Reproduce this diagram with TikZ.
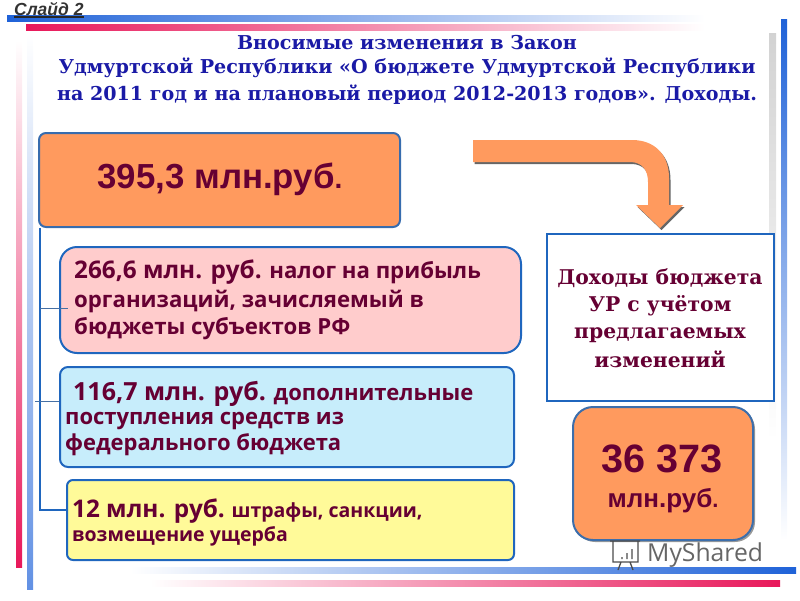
\documentclass[tikz,border=0pt]{standalone}
\usepackage{fontspec}
\setmainfont{Liberation Sans}
\newfontfamily\titlefont{DejaVu Serif}
\newfontfamily\bodyfont{Open Sans}
\usetikzlibrary{shadows}
\definecolor{maroon}{HTML}{660033}
\definecolor{navy}{HTML}{1A1AA6}
\definecolor{orangefill}{HTML}{FF9A5E}
\definecolor{linkblue}{HTML}{1F66BE}
\definecolor{barblue}{HTML}{1F62D8}
\definecolor{barred}{HTML}{E8185A}
\newcommand{\fsize}[1]{\fontsize{#1}{#1}\selectfont}
\tikzset{
  box/.style = {draw = linkblue, line width = 2pt, rounded corners = #1},
  label/.style = {anchor = west, inner sep = 0pt, text = maroon, align = left},
  mid/.style = {anchor = center, inner sep = 0pt, text = maroon, align = center, font = \bfseries},
  link/.style = {draw = linkblue, line width = 2.5pt},
  thinlink/.style = {draw = linkblue!60!gray, line width = 1pt}
}
\begin{document}
\begin{tikzpicture}[x = 1pt, y = -1pt]
\useasboundingbox (0, 0) rectangle (800, 600);
% Frame bars
\shade[left color = barblue, right color = white] (7, 15) rectangle (705, 21);
\shade[left color = barred, right color = white] (26, 24) rectangle (705, 30);
\shade[top color = gray!35, bottom color = white] (769, 33) rectangle (776, 440);
\shade[top color = barblue, bottom color = white] (781, 19) rectangle (787, 540);
\shade[top color = white, bottom color = barred] (16, 40) rectangle (22, 567);
\shade[top color = white, bottom color = barblue!70] (27, 33) rectangle (33, 589);
\shade[left color = white, right color = barblue] (130, 567) rectangle (796, 573);
\shade[left color = white, right color = barred] (150, 580) rectangle (780, 586);
% Slide number
\node[anchor = west, inner sep = 0pt, font = \bfseries\itshape\fsize{17.5}, text = black!80] (slide) at (14, 9.5) {Слайд 2};
\draw[black!85, line width = 1.2pt] (slide.west |- 0, 17) -- (slide.east |- 0, 17);
% Title
\node[anchor = center, inner sep = 0pt, align = center, text = navy, font = \titlefont\bfseries\fsize{19.1}] (title) at (407, 69.5)
  {Вносимые изменения в Закон\\[5.5pt]
   Удмуртской Республики «О бюджете Удмуртской Республики\\[5.5pt]
   на 2011 год и на плановый период 2012-2013 годов». Доходы.};
% Boxes
\node[box = 7pt, draw = linkblue!75!gray, fill = orangefill, minimum width = 361pt, minimum height = 94pt, inner sep = 0pt] (total) at (219.5, 180) {};
\node[box = 17pt, fill = red!20, minimum width = 461pt, minimum height = 106pt, inner sep = 0pt] (tax) at (290.5, 300) {};
\node[box = 8pt, fill = cyan!22, minimum width = 454pt, minimum height = 100pt, inner sep = 0pt] (federal) at (287, 417) {};
\node[box = 6pt, fill = yellow!40, minimum width = 447pt, minimum height = 80pt, inner sep = 0pt] (fines) at (290.5, 520) {};
\node[box = 0pt, fill = white, minimum width = 227pt, minimum height = 167pt, inner sep = 0pt] (income) at (660.5, 317.5) {};
\node[box = 20pt, draw = linkblue!70!gray, fill = orangefill, minimum width = 180pt, minimum height = 133pt, inner sep = 0pt, drop shadow = {shadow xshift = 2pt, shadow yshift = -2pt, fill = gray, opacity = 0.8}] (result) at (663, 473.5) {};
% Connectors
\coordinate (corner) at (40, 510);
\coordinate (thinA) at (40, 308);
\coordinate (thinB) at (35, 401);
\draw[link] (total.south -| corner) -- (corner) -- (fines.west |- corner);
\draw[thinlink] (thinA) -- (68, 308);
\draw[thinlink] (thinB) -- (federal.west |- thinB);
% Bent arrow
\path[fill = gray!80!black, xshift = 1.5pt, yshift = -2pt] (473, 140) -- (632, 140) .. controls (655, 140) and (669, 155) .. (669, 178) -- (669, 205) -- (683, 205) -- (660, 228) -- (636, 205) -- (648, 205) -- (648, 182) .. controls (648, 170) and (642, 162) .. (630, 162) -- (473, 162) -- cycle;
\path[fill = orangefill] (473, 140) -- (632, 140) .. controls (655, 140) and (669, 155) .. (669, 178) -- (669, 205) -- (683, 205) -- (660, 228) -- (636, 205) -- (648, 205) -- (648, 182) .. controls (648, 170) and (642, 162) .. (630, 162) -- (473, 162) -- cycle;
% Box texts
\node[mid, font = \bfseries\fsize{34.8}] (totaltext) at (220, 179) {395,3 млн.руб{\fsize{28}.}};
\node[label, font = \bodyfont\bfseries\fsize{22.2}] (taxtext) at (74, 300)
  {{\fsize{24.3}266,6 млн. руб.} налог на прибыль\\[4.5pt]
   организаций, зачисляемый в\\[4.5pt]
   бюджеты субъектов РФ};
\node[label, font = \bodyfont\bfseries\fsize{22}] (federaltext) at (65, 418.5)
  {\hspace{8pt}{\fsize{25}116,7 млн. руб.} дополнительные\\[2pt]
   поступления средств из\\[2pt]
   федерального бюджета};
\node[label, font = \bodyfont\bfseries\fsize{19.5}] (finestext) at (72, 522.5)
  {{\fsize{24.3}12 млн. руб.} штрафы, санкции,\\[3pt]
   возмещение ущерба};
\node[mid, font = \titlefont\bfseries\fsize{20.3}] (incometext) at (660, 318)
  {Доходы бюджета\\[7pt] УР с учётом\\[7pt] предлагаемых\\[7pt] изменений};
\node[mid, font = \bfseries\fsize{39.6}] (resulttext) at (662, 459) {36 373};
\node[mid, font = \bfseries\fsize{26}] (resultunit) at (663, 501) {млн.руб{\fsize{22}.}};
% Watermark
\node[anchor = west, inner sep = 0pt, text = black!60, font = \bodyfont\fsize{24.7}] (mark) at (647, 555) {MyShared};
\draw[black!70, line width = 1.3pt] (610, 541) -- (640, 541) (613, 541) -- (613, 562) -- (638, 562) -- (638, 541)
  (621, 562) -- (618, 570) (630, 562) -- (633, 570) (622, 557) -- (622, 559) (627, 553) -- (627, 559) (632, 549) -- (632, 559);
\end{tikzpicture}
\end{document}
